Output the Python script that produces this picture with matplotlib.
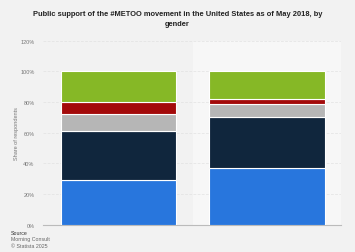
import matplotlib
matplotlib.use("Agg")
import matplotlib.pyplot as plt
import numpy as np

plt.rcParams['font.family'] = ['Liberation Sans', 'DejaVu Sans']

# data (share of respondents, %)
genders = ["Male", "Female"]
strongly_support = [29, 37]
somewhat_support = [32, 33]
dont_know = [11, 9]
somewhat_oppose = [8, 3]
strongly_oppose = [20, 18]

series = [strongly_support, somewhat_support, dont_know, somewhat_oppose, strongly_oppose]
colors = ["#2876dd", "#10263d", "#b6b6b6", "#a30a0a", "#86b826"]

yticks = [0, 20, 40, 60, 80, 100, 120]
ytick_labels = [f"{v}%" for v in yticks]

fig = plt.figure(figsize=(3.55, 2.53), dpi=100)
fig.patch.set_facecolor("#f2f2f2")
ax = fig.add_axes([0.121, 0.1075, 0.8396, 0.7275])
ax.set_facecolor("#f2f2f2")

x = np.arange(len(genders))
# hover highlight behind second column
ax.axvspan(0.5, 1.5, color="#f7f7f7", zorder=0, lw=0)

bottom = np.zeros(len(genders))
for vals, c in zip(series, colors):
    ax.bar(x, vals, bottom=bottom, width=0.78, color=c, edgecolor="white", linewidth=0.8, zorder=3)
    bottom += np.array(vals)

ax.set_xlim(-0.51, 1.5)
ax.set_ylim(0, 120)
ax.set_yticks(yticks)
ax.set_yticklabels(ytick_labels, fontsize=4, color="#777777")
ax.set_xticks([])
ax.tick_params(axis="y", length=0, pad=6)
ax.grid(axis="y", color="#e2e2e2", linewidth=0.5, linestyle=(0, (4, 2)), zorder=1)
for s in ["top", "right", "left"]:
    ax.spines[s].set_visible(False)
ax.spines["bottom"].set_color("#bbbbbb")
ax.spines["bottom"].set_linewidth(0.8)

ax.set_ylabel("Share of respondents", fontsize=4, color="#777777")
ax.yaxis.set_label_coords(-0.08, 0.5)

fig.text(0.5, 0.955, "Public support of the #METOO movement in the United States as of May 2018, by\ngender",
         ha="center", va="top", fontsize=5.4, fontweight="bold", color="#222222", linespacing=1.6)

fig.text(0.031, 0.078, "Source", fontsize=3.8, color="#333333", va="center")
fig.text(0.031, 0.052, "Morning Consult", fontsize=3.8, color="#666666", va="center")
fig.text(0.031, 0.027, "\u00a9 Statista 2025", fontsize=3.8, color="#666666", va="center")

fig.savefig("out.png", dpi=100, facecolor=fig.get_facecolor())
